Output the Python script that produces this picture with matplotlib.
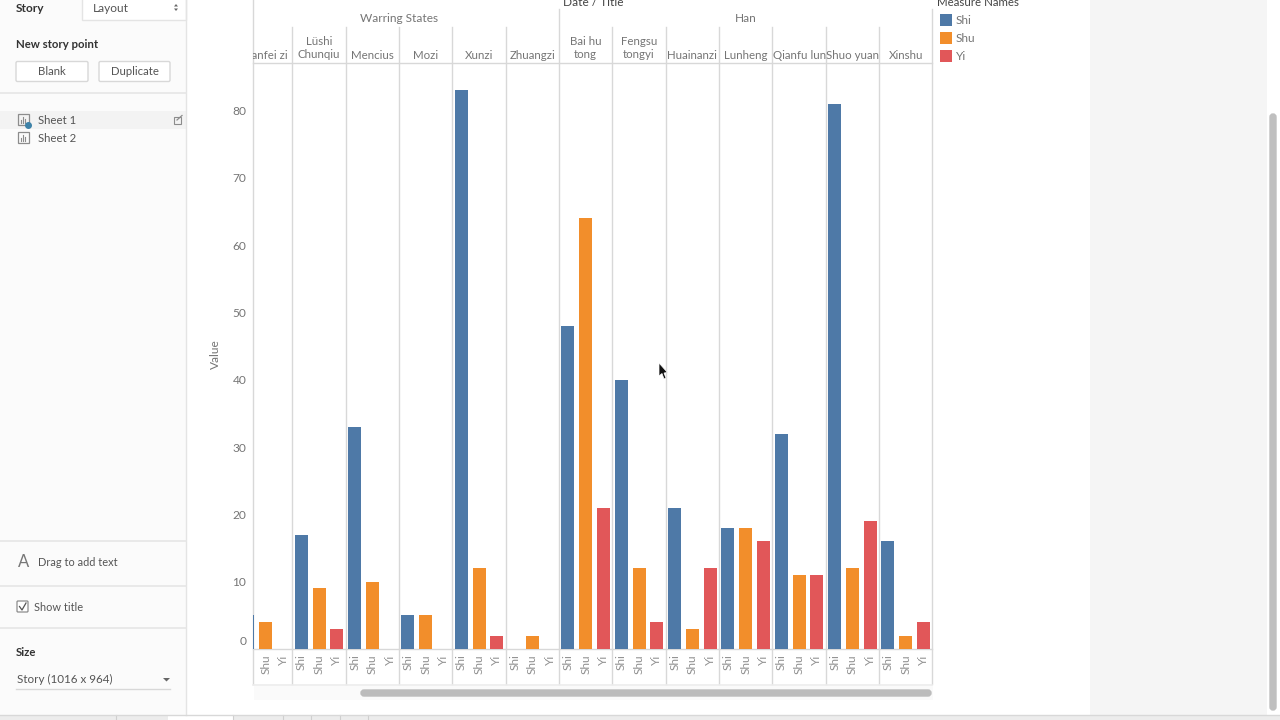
import matplotlib
matplotlib.use('Agg')
import matplotlib.pyplot as plt
from matplotlib.patches import Rectangle, FancyBboxPatch, Polygon
from matplotlib.transforms import blended_transform_factory, ScaledTranslation

plt.rcParams['font.family'] = ['Lato', 'DejaVu Sans']

# word counts per text
titles = ['Hanfei zi', 'Lüshi\nChunqiu', 'Mencius', 'Mozi', 'Xunzi', 'Zhuangzi',
          'Bai hu\ntong', 'Fengsu\ntongyi', 'Huainanzi', 'Lunheng', 'Qianfu lun',
          'Shuo yuan', 'Xinshu']
measures = ['Shi', 'Shu', 'Yi']
shi = [5, 17, 33, 5, 83, 0, 48, 40, 21, 18, 32, 81, 16]
shu = [4, 9, 10, 5, 12, 2, 64, 12, 3, 18, 11, 12, 2]
yi = [0, 3, 0, 0, 2, 0, 21, 4, 12, 16, 11, 19, 4]
y_ticks = [0, 10, 20, 30, 40, 50, 60, 70, 80]

colors = ['#4e79a7', '#f28e2b', '#e15759']
text_grey = '#757575'
line_grey = '#d8d8d8'

W, H = 1280, 720
fig = plt.figure(figsize=(W / 100, H / 100), dpi=100, facecolor='white')

# overlay in pixel coordinates for the workbook panels around the chart
ui = fig.add_axes([0, 0, 1, 1], zorder=1)
ui.set_xlim(0, W)
ui.set_ylim(H, 0)
ui.axis('off')
ui.patch.set_alpha(0)

# chart area
left, right, top, bottom = 253.4, 932.4, 63, 649
ax = fig.add_axes([left / W, 1 - bottom / H, (right - left) / W, (bottom - top) / H], zorder=2)
ax.patch.set_alpha(0)

slots = []
for i, series in enumerate([shi, shu, yi]):
    xs = [3 * j + i for j in range(len(titles))]
    ax.bar(xs, series, width=0.73, color=colors[i], label=measures[i], zorder=3)
    slots += xs
slots = sorted(slots)

ax.set_xticks(slots)
ax.set_xticklabels([measures[s % 3] for s in slots], rotation=90, fontsize=8.6, color='#909090')
ax.tick_params(axis='x', length=0, pad=4)
ax.set_yticks(y_ticks)
ax.set_yticklabels([str(v) for v in y_ticks], fontsize=8.6, color=text_grey)
ax.tick_params(axis='y', length=0, pad=5)
# the view starts part way through the first pane, so set it after the ticks
ax.set_xlim(0.305, 3 * len(titles) - 0.5)
ax.set_ylim(0, (bottom - top) / 6.73)
# keep the zero label inside the pane
zero_label = ax.get_yticklabels()[0]
zero_label.set_va('bottom')
zero_label.set_transform(zero_label.get_transform() + ScaledTranslation(0, 1.5 / 72, fig.dpi_scale_trans))
for s in ['top', 'right', 'left']:
    ax.spines[s].set_visible(False)
ax.spines['bottom'].set_color(line_grey)
ax.spines['bottom'].set_linewidth(1)

# x in chart units, y in pixels
hdr = blended_transform_factory(ax.transData, ui.transData)

for j in range(1, len(titles)):
    edge = 3 * j - 0.5
    y_top = 9 if j == 6 else 27
    ui.plot([edge, edge], [y_top, 684], transform=hdr, color=line_grey, lw=1, zorder=1)
ui.plot([left, left], [0, 684], color=line_grey, lw=1)
ui.plot([right, right], [9, 684], color=line_grey, lw=1)
ui.plot([left, right], [63, 63], color=line_grey, lw=1)
ui.plot([left, right], [684.5, 684.5], color='#ececec', lw=1.2)

clip = Rectangle((left, 0), right - left, H, transform=ui.transData)
for j, name in enumerate(titles):
    name_y = 55.5 if '\n' not in name else 48
    t = ui.text(3 * j + 1, name_y, name, transform=hdr, ha='center', va='center',
                fontsize=8.3, color=text_grey, linespacing=1.3, clip_on=True)
    t.set_clip_path(clip)

ui.text(399, 18.5, 'Warring States', ha='center', va='center', fontsize=8.6, color=text_grey)
ui.text(746, 18.5, 'Han', ha='center', va='center', fontsize=8.6, color=text_grey)
ui.text(593, 2, 'Date / Title', ha='center', va='center', fontsize=8.6, color='#444444')
ui.text(215, 354, 'Value', rotation=90, ha='center', va='center', fontsize=8.6, color=text_grey)

# legend
ui.text(937, 3, 'Measure Names', ha='left', va='center', fontsize=8.3, color='#444444')
for i, m in enumerate(measures):
    ui.add_patch(Rectangle((940, 13.5 + 18 * i), 12, 12, color=colors[i], lw=0))
    ui.text(956, 20.5 + 18 * i, m, ha='left', va='center', fontsize=8.6, color=text_grey)

# horizontal scrollbar
ui.add_patch(Rectangle((254, 686), 679, 14, color='#fafafa', lw=0, zorder=0))
ui.add_patch(FancyBboxPatch((361, 690), 570, 6, boxstyle='round,pad=0,rounding_size=3',
                            mutation_aspect=1, fc='#bcbcbc', ec='#bcbcbc', lw=1))

# story sidebar
ui.add_patch(Rectangle((0, 0), 186, 715, color='#fbfbfb', lw=0, zorder=0))
ui.plot([186, 186], [0, 715], color='#e4e4e4', lw=1)
ui.add_patch(Rectangle((82, -2), 104, 22, fc='white', ec='#e4e4e4', lw=1))
ui.text(16, 8, 'Story', fontsize=8.6, fontweight='bold', color='#333333', va='center')
ui.text(93, 8, 'Layout', fontsize=8.6, color='#555555', va='center')
ui.add_patch(Polygon([[174, 6.5], [178, 6.5], [176, 4]], color='#666666', lw=0))
ui.add_patch(Polygon([[174, 8.5], [178, 8.5], [176, 11]], color='#666666', lw=0))
ui.text(16, 45, 'New story point', fontsize=8.2, fontweight='bold', color='#333333', va='center')
for x0, x1, label in [(16, 88, 'Blank'), (99, 170, 'Duplicate')]:
    ui.add_patch(FancyBboxPatch((x0, 61.5), x1 - x0, 20, boxstyle='round,pad=0,rounding_size=1.5',
                                fc='white', ec='#d8d8d8', lw=1))
    ui.text((x0 + x1) / 2, 71.5, label, ha='center', va='center', fontsize=8.2, color='#555555')

for y in [93, 541, 586, 628]:
    ui.plot([0, 186], [y, y], color='#e6e6e6', lw=1.2)

ui.add_patch(Rectangle((0, 111), 186, 18, color='#f3f3f3', lw=0, zorder=0))
for y, label in [(119.5, 'Sheet 1'), (137.5, 'Sheet 2')]:
    ui.add_patch(Rectangle((17.5, y - 5.5), 11, 11, fc='none', ec='#8c8c8c', lw=0.9))
    for dx, h in [(21, 3), (23, 6), (25, 4)]:
        ui.plot([dx, dx], [y + 3, y + 3 - h], color='#8c8c8c', lw=0.8)
    ui.text(38, y + 0.5, label, fontsize=8.2, color='#555555', va='center')
ui.plot([28], [125], marker='o', ms=4, color='#3d82a8', lw=0)
ui.add_patch(Rectangle((174, 117), 7, 7, fc='none', ec='#8c8c8c', lw=0.8))
ui.plot([177, 182], [120, 115.5], color='#8c8c8c', lw=0.9)

ui.text(18, 562, 'A', fontsize=12, color='#777777', va='center')
ui.text(38, 562.5, 'Drag to add text', fontsize=7.9, color='#555555', va='center')
ui.add_patch(FancyBboxPatch((17, 601), 11, 11, boxstyle='round,pad=0,rounding_size=1',
                            fc='white', ec='#8c8c8c', lw=0.9))
ui.plot([19.5, 22, 26], [606.5, 610, 603], color='#555555', lw=0.9)
ui.text(34, 607.5, 'Show title', fontsize=7.9, color='#555555', va='center')
ui.text(16, 652.5, 'Size', fontsize=8.2, fontweight='bold', color='#333333', va='center')
ui.text(17, 679, 'Story (1016 x 964)', fontsize=8.4, color='#555555', va='center')
ui.add_patch(Polygon([[163, 678], [170, 678], [166.5, 681.5]], color='#666666', lw=0))
ui.plot([16, 170], [689, 689], color='#d8d8d8', lw=1)

# right-hand empty panel and page scrollbar
ui.add_patch(Rectangle((1090, 0), 177, 715, color='#f5f5f5', lw=0, zorder=0))
ui.add_patch(FancyBboxPatch((1270, 114), 6, 596, boxstyle='round,pad=0,rounding_size=3',
                            mutation_aspect=1, fc='#bfbfbf', ec='#bfbfbf', lw=1))

# sheet tab strip
ui.add_patch(Rectangle((0, 715), W, 5, color='#ececec', lw=0, zorder=0))
ui.add_patch(Rectangle((168, 715), 65, 5, color='white', lw=0))
for x in [116, 233, 283, 311, 340, 368]:
    ui.plot([x, x], [715, 720], color='#cfcfcf', lw=0.8)
ui.plot([0, W], [715, 715], color='#d8d8d8', lw=1)

# mouse pointer
ui.add_patch(Polygon([[659, 363], [659, 376], [662, 373.5], [664, 379], [666, 378],
                      [664, 373], [667.5, 372.5]], fc='#111111', ec='white', lw=0.5, zorder=5))

fig.savefig('out.png', dpi=100, facecolor='white')
